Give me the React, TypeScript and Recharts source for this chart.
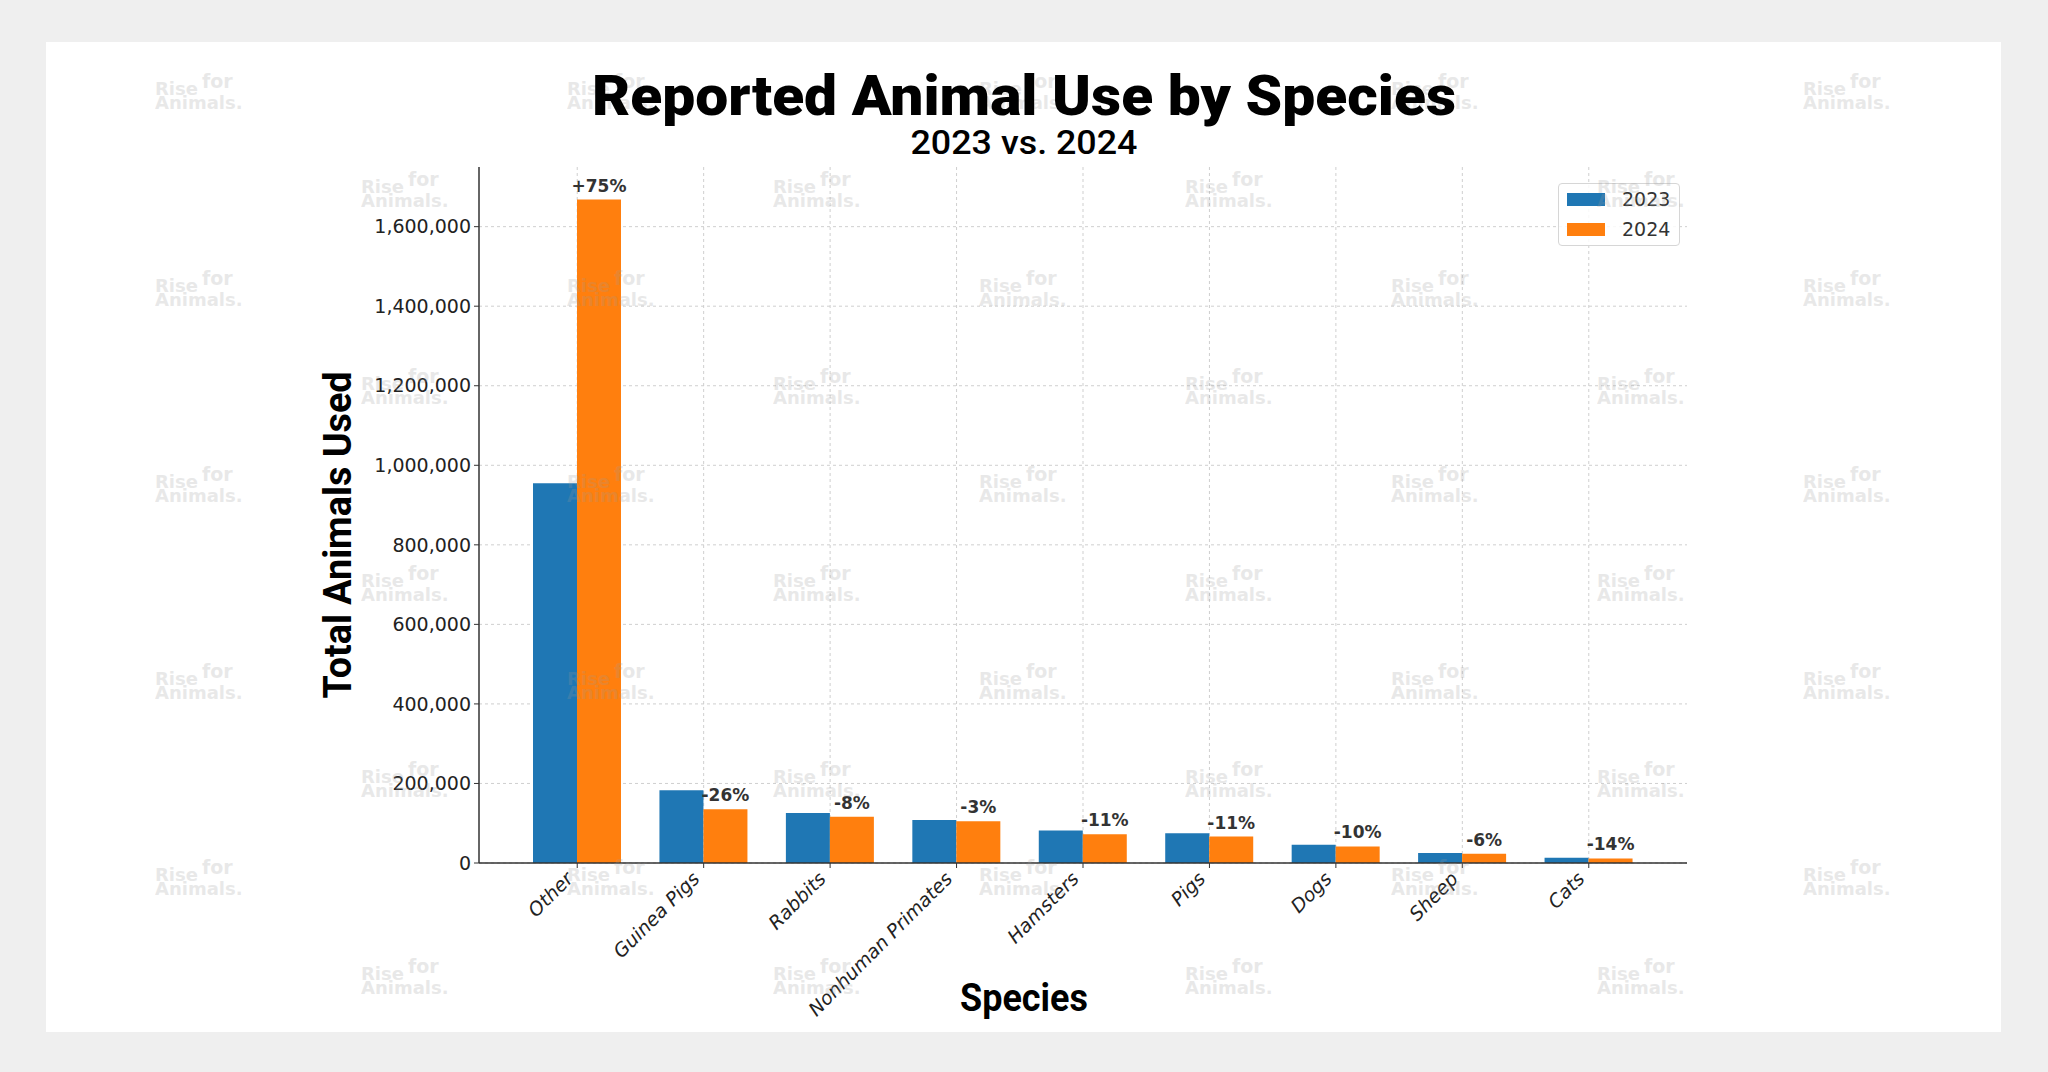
import { BarChart, Bar, XAxis, YAxis, CartesianGrid, LabelList } from 'recharts'

const W = 2048
const H = 1072

// plot area in page pixels
const PLOT_LEFT = 479
const PLOT_RIGHT = 1687
const PLOT_TOP = 167
const PLOT_BOTTOM = 863
const Y_AXIS_W = 120
const X_AXIS_H = 150

const SPECIES = ['Other', 'Guinea Pigs', 'Rabbits', 'Nonhuman Primates', 'Hamsters', 'Pigs', 'Dogs', 'Sheep', 'Cats']
const USE_2023 = [955000, 183000, 126000, 108000, 81500, 75000, 46000, 25000, 13500]
const USE_2024 = [1668000, 135000, 116000, 105000, 72500, 66500, 41500, 23500, 11600]
const CHANGE_LABELS = ['+75%', '-26%', '-8%', '-3%', '-11%', '-11%', '-10%', '-6%', '-14%']
const Y_TICKS = [0, 200000, 400000, 600000, 800000, 1000000, 1200000, 1400000, 1600000]

const SERIES = [
  { key: 'y2023', name: '2023', color: '#1f77b4' },
  { key: 'y2024', name: '2024', color: '#ff7f0e' },
]

const data = SPECIES.map((species, i) => ({
  species,
  y2023: USE_2023[i],
  y2024: USE_2024[i],
  change: CHANGE_LABELS[i],
}))

const fmt = (v: number) => v.toLocaleString('en-US')

function XTick({ x, y, payload }: any) {
  const ax = x - 3
  const ay = y + 10
  return (
    <text
      x={ax}
      y={ay}
      transform={`rotate(-45 ${ax} ${ay})`}
      textAnchor="end"
      fontFamily="DejaVu Sans"
      fontStyle="italic"
      fontSize={19}
      fill="#222"
    >
      {payload.value}
    </text>
  )
}

function ChangeLabel(props: any) {
  const { x, y, width, value } = props
  return (
    <text
      x={x + width / 2}
      y={y - 8}
      textAnchor="middle"
      fontFamily="DejaVu Sans"
      fontWeight="bold"
      fontSize={17}
      fill="#333"
    >
      {value}
    </text>
  )
}

// faint "Rise for Animals." watermark tiled over the card
function Watermarks() {
  const marks = []
  for (let row = 0; row < 10; row++) {
    const odd = row % 2 === 1
    const cols = odd ? 4 : 5
    for (let c = 0; c < cols; c++) {
      const x0 = 155 + c * 412 + (odd ? 206 : 0)
      const yb = 95 + row * 98.3
      marks.push(
        <g key={`${row}-${c}`} fontFamily="DejaVu Sans" fontWeight="bold" fill="#9a9a9a" opacity={0.22}>
          <text x={x0} y={yb} fontSize={18}>
            Rise
            <tspan dx={4} dy={-7} fontSize={19}>for</tspan>
          </text>
          <text x={x0} y={yb + 14} fontSize={18}>Animals.</text>
        </g>
      )
    }
  }
  return <>{marks}</>
}

export default function App() {
  return (
    <div style={{ position: 'absolute', left: 0, top: 0, width: W, height: H, background: '#efefef', overflow: 'hidden' }}>
      <div style={{ position: 'absolute', left: 46, top: 42, width: 1955, height: 990, background: '#ffffff' }} />

      <div style={{ position: 'absolute', left: 0, top: 0 }}>
        <BarChart
          width={W}
          height={H}
          data={data}
          barGap={0}
          margin={{
            top: PLOT_TOP,
            right: W - PLOT_RIGHT,
            bottom: H - PLOT_BOTTOM - X_AXIS_H,
            left: PLOT_LEFT - Y_AXIS_W,
          }}
        >
          <CartesianGrid strokeDasharray="3 3" stroke="#cfcfcf" syncWithTicks />
          <XAxis
            dataKey="species"
            height={X_AXIS_H}
            interval={0}
            padding={{ left: 35, right: 35 }}
            axisLine={{ stroke: '#333', strokeWidth: 1.5 }}
            tickLine={{ stroke: '#333' }}
            tickSize={5}
            tick={<XTick />}
          />
          <YAxis
            width={Y_AXIS_W}
            domain={[0, 1750000]}
            ticks={Y_TICKS}
            tickFormatter={fmt}
            axisLine={{ stroke: '#333', strokeWidth: 1.5 }}
            tickLine={{ stroke: '#333' }}
            tickSize={5}
            tickMargin={3}
            tick={{ fontFamily: 'DejaVu Sans', fontSize: 19, fill: '#222' }}
          />
          {SERIES.map((s) => (
            <Bar key={s.key} dataKey={s.key} name={s.name} fill={s.color} barSize={44} isAnimationActive={false}>
              {s.key === 'y2024' && <LabelList dataKey="change" content={<ChangeLabel />} />}
            </Bar>
          ))}
        </BarChart>
      </div>

      <div
        style={{
          position: 'absolute',
          left: 1558,
          top: 183,
          width: 122,
          height: 63,
          border: '1.5px solid #d6d6d6',
          borderRadius: 4,
          background: 'rgba(255,255,255,0.85)',
          boxSizing: 'border-box',
        }}
      >
        {SERIES.map((s, i) => (
          <div key={s.key} style={{ position: 'absolute', left: 8, top: 4 + i * 30, height: 22, display: 'flex', alignItems: 'center' }}>
            <div style={{ width: 38, height: 13, background: s.color }} />
            <span style={{ marginLeft: 17, fontFamily: 'DejaVu Sans', fontSize: 19, color: '#333', lineHeight: '22px' }}>{s.name}</span>
          </div>
        ))}
      </div>

      <svg width={W} height={H} style={{ position: 'absolute', left: 0, top: 0, pointerEvents: 'none' }}>
        <Watermarks />
        <text x={1024} y={115} textAnchor="middle" fontFamily="Roboto" fontWeight={900} fontSize={56} fill="#000" textLength={864} lengthAdjust="spacingAndGlyphs">
          Reported Animal Use by Species
        </text>
        <text x={1024} y={154} textAnchor="middle" fontFamily="Roboto" fontWeight={500} fontSize={33} fill="#000" textLength={227} lengthAdjust="spacingAndGlyphs">
          2023 vs. 2024
        </text>
        <text
          x={351}
          y={535}
          transform="rotate(-90 351 535)"
          textAnchor="middle"
          fontFamily="Roboto"
          fontWeight={700}
          fontSize={38}
          fill="#000"
          textLength={327}
          lengthAdjust="spacingAndGlyphs"
        >
          Total  Animals Used
        </text>
        <text x={1024} y={1011} textAnchor="middle" fontFamily="Roboto" fontWeight={700} fontSize={38} fill="#000" textLength={128} lengthAdjust="spacingAndGlyphs">
          Species
        </text>
      </svg>
    </div>
  )
}
